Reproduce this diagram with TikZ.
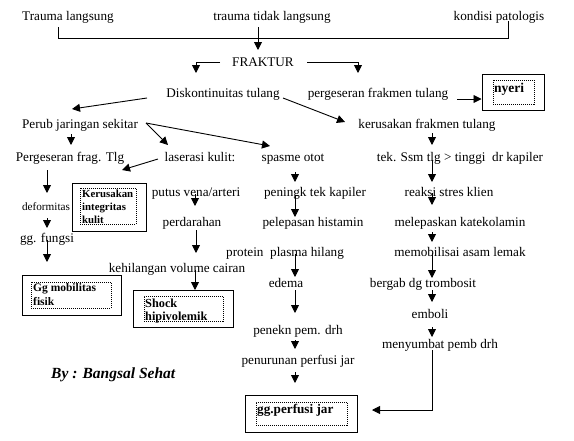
\documentclass[tikz,border=0pt]{standalone}
\usepackage{fontspec}
\setmainfont{Liberation Serif}
\usetikzlibrary{arrows.meta,calc}
\tikzset{
  lbl/.style={font=\fontsize{13.2}{15}\selectfont, inner sep=0pt, text height=10pt, text depth=0pt},
  lnk/.style={line width=0.9pt},
  arr/.style={line width=0.9pt, -{Triangle[width=8pt,length=8pt]}},
  outerbox/.style={draw, line width=1pt, inner sep=0pt},
  dotbox/.style={draw, line width=0.9pt, dash pattern=on 1pt off 1pt, inner sep=0pt},
  boxtxt/.style={inner sep=0pt, align=left}
}
\begin{document}
\begin{tikzpicture}[x=1pt,y=-1pt]
\fill[white] (0,0) rectangle (574,440);
\useasboundingbox (0,0) rectangle (574,440);

% text nodes
\node[lbl] (tl) at (68,15) {Trauma langsung};
\node[lbl] (tt) at (272,15) {trauma tidak langsung};
\node[lbl] (kp) at (499,15) {kondisi patologis};
\node[lbl] (fr) at (263,61) {FRAKTUR};
\node[lbl] (dt) at (223,92) {Diskontinuitas tulang};
\node[lbl] (pf) at (378,92) {pergeseran frakmen tulang};
\node[lbl] (pj) at (80,123) {Perub jaringan sekitar};
\node[lbl] (kf) at (427,123) {kerusakan frakmen tulang};
\node[lbl] (pg) at (70,156) {Pergeseran frag. Tlg};
\node[lbl] (la) at (200,156) {laserasi kulit:};
\node[lbl] (sp) at (293,156) {spasme otot};
\node[lbl] (tk) at (460,156) {tek. Ssm tlg > tinggi\ \ dr kapiler};
\node[lbl, font=\fontsize{11.2}{13}\selectfont] (df) at (46,205) {deformitas};
\node[lbl] (gf) at (47,237) {gg. fungsi};
\node[lbl] (pv) at (196,191) {putus vena/arteri};
\node[lbl] (pd) at (192,221) {perdarahan};
\node[lbl] (kv) at (177,267) {kehilangan volume cairan};
\node[lbl] (pk) at (315,191) {peningk tek kapiler};
\node[lbl] (ph) at (313,221) {pelepasan histamin};
\node[lbl] (pp) at (285,251) {protein\ \ plasma hilang};
\node[lbl] (ed) at (286,282) {edema};
\node[lbl] (pe) at (298,329) {penekn pem. drh};
\node[lbl] (pu) at (298,359) {penurunan perfusi jar};
\node[lbl] (rs) at (449,191) {reaksi stres klien};
\node[lbl] (mk) at (460,221) {melepaskan katekolamin};
\node[lbl] (ma) at (460,251) {memobilisai asam lemak};
\node[lbl] (bt) at (423,282) {bergab dg trombosit};
\node[lbl] (em) at (430,313) {emboli};
\node[lbl] (mp) at (440,343) {menyumbat pemb drh};
\node[inner sep=0pt, anchor=base west, font=\fontsize{15.5}{18}\selectfont\bfseries\itshape] (by) at (51,378) {By : Bangsal Sehat};

% boxes
\node[outerbox, minimum width=62pt, minimum height=36pt] (ny) at (513,92) {};
\node[dotbox, minimum width=41pt, minimum height=24pt] (nyd) at (513.5,92) {};
\node[boxtxt, anchor=base west, font=\fontsize{13.5}{15}\selectfont\bfseries] (nyt) at (494,92) {nyeri};

\node[outerbox, minimum width=74pt, minimum height=48pt] (kb) at (109,207) {};
\node[dotbox, minimum width=56pt, minimum height=36pt] (kbd) at (108,206) {};
\node[boxtxt, anchor=north west, font=\fontsize{10.8}{13}\selectfont\bfseries] (kbt) at (82,189.5) {Kerusakan\\integritas\\kulit};

\node[outerbox, minimum width=99pt, minimum height=40pt] (gm) at (71.5,295) {};
\node[dotbox, minimum width=80pt, minimum height=26pt] (gmd) at (71,295) {};
\node[boxtxt, anchor=north west, font=\fontsize{11.5}{14}\selectfont\bfseries] (gmt) at (33,283.5) {Gg mobilitas\\fisik};

\node[outerbox, minimum width=100pt, minimum height=37pt] (sh) at (183,308.5) {};
\node[dotbox, minimum width=79pt, minimum height=25pt] (shd) at (183.5,308.5) {};
\node[boxtxt, anchor=north west, font=\fontsize{12.3}{13}\selectfont\bfseries] (sht) at (145,298.5) {Shock\\hipivolemik};

\node[outerbox, minimum width=112pt, minimum height=37pt] (gp) at (301,413.5) {};
\node[dotbox, minimum width=91pt, minimum height=23pt] (gpd) at (301.5,413.5) {};
\node[boxtxt, anchor=base west, font=\fontsize{13.2}{15}\selectfont\bfseries] (gpt) at (257,413) {gg.perfusi jar};

% connectors
\draw[lnk] ($(tl)+(-10,12)$) |- ($(kp)+(9,23)$) -- ($(kp)+(9,6)$);
\draw[arr] ($(tt)+(-14,12)$) -- ($(fr)+(-5,-11)$);
\draw[arr] ($(fr)+(-43,1)$) -| ($(dt)+(-27,-19)$);
\draw[arr] ($(fr)+(44,1)$) -| ($(pf)+(-20,-19)$);
\draw[arr] ($(dt)+(-76,6)$) -- ($(pj)+(-8,-14)$);
\draw[arr] ($(dt)+(60,6)$) -- ($(kf)+(-82,-1)$);
\draw[arr] ($(pf)+(79,7)$) -- ($(ny.west)+(0,7)$);
\draw[arr] ($(pj)+(-9,11)$) -- ($(pg)+(1,-11)$);
\draw[arr] ($(pj)+(66,0)$) -- ($(la)+(-32,-11)$);
\draw[arr] ($(pj)+(66,0)$) -- ($(sp)+(-23,-10)$);
\draw[arr] ($(kf)+(5,10)$) -- ($(tk)+(-28,-11)$);
\draw[arr] ($(la)+(-42,3)$) -- ($(kb)+(13,-37)$);
\draw[arr] ($(pg)+(-23,14)$) -- ($(df)+(1,-12)$);
\draw[arr] ($(df)+(1,13)$) -- ($(gf)+(0,-9)$);
\draw[arr] ($(gf)+(0,3)$) -- ($(gm)+(-24.5,-33)$);
\draw[arr] ($(pv)+(-1,3)$) -- ($(pd)+(3,-15)$);
\draw[arr] ($(pd)+(4,9)$) -- ($(kv)+(19,-14)$);
\draw[arr] ($(kv)+(18,3)$) -- ($(sh)+(12,-18.5)$);
\draw[arr] ($(sp)+(2,16)$) -- ($(pk)+(-20,-9)$);
\draw[arr] ($(pk)+(-20,4)$) -- ($(ph)+(-18,-4)$);
\draw[arr] ($(pp)+(10,3)$) -- ($(ed)+(9,-5)$);
\draw[arr] ($(ed)+(9,8)$) -- ($(pe)+(-3,-16)$);
\draw[arr] ($(pe)+(-3,11)$) -- ($(pu)+(-3,-10)$);
\draw[arr] ($(pu)+(-3,13)$) -- ($(gp)+(-6,-30.5)$);
\draw[arr] ($(tk)+(-28,4)$) -- ($(rs)+(-17,-9)$);
\draw[arr] ($(rs)+(-17,2)$) -- ($(mk)+(-28,-16)$);
\draw[arr] ($(mk)+(-28,11)$) -- ($(ma)+(-28,-9)$);
\draw[arr] ($(ma)+(-28,2)$) -- ($(bt)+(9,-4)$);
\draw[arr] ($(bt)+(9,8)$) -- ($(em)+(2,-11)$);
\draw[arr] ($(em)+(2,14)$) -- ($(mp)+(-8,-6)$);
\draw[arr] ($(mp)+(-8,7)$) |- ($(gp)+(71,-3.5)$);
\end{tikzpicture}
\end{document}
